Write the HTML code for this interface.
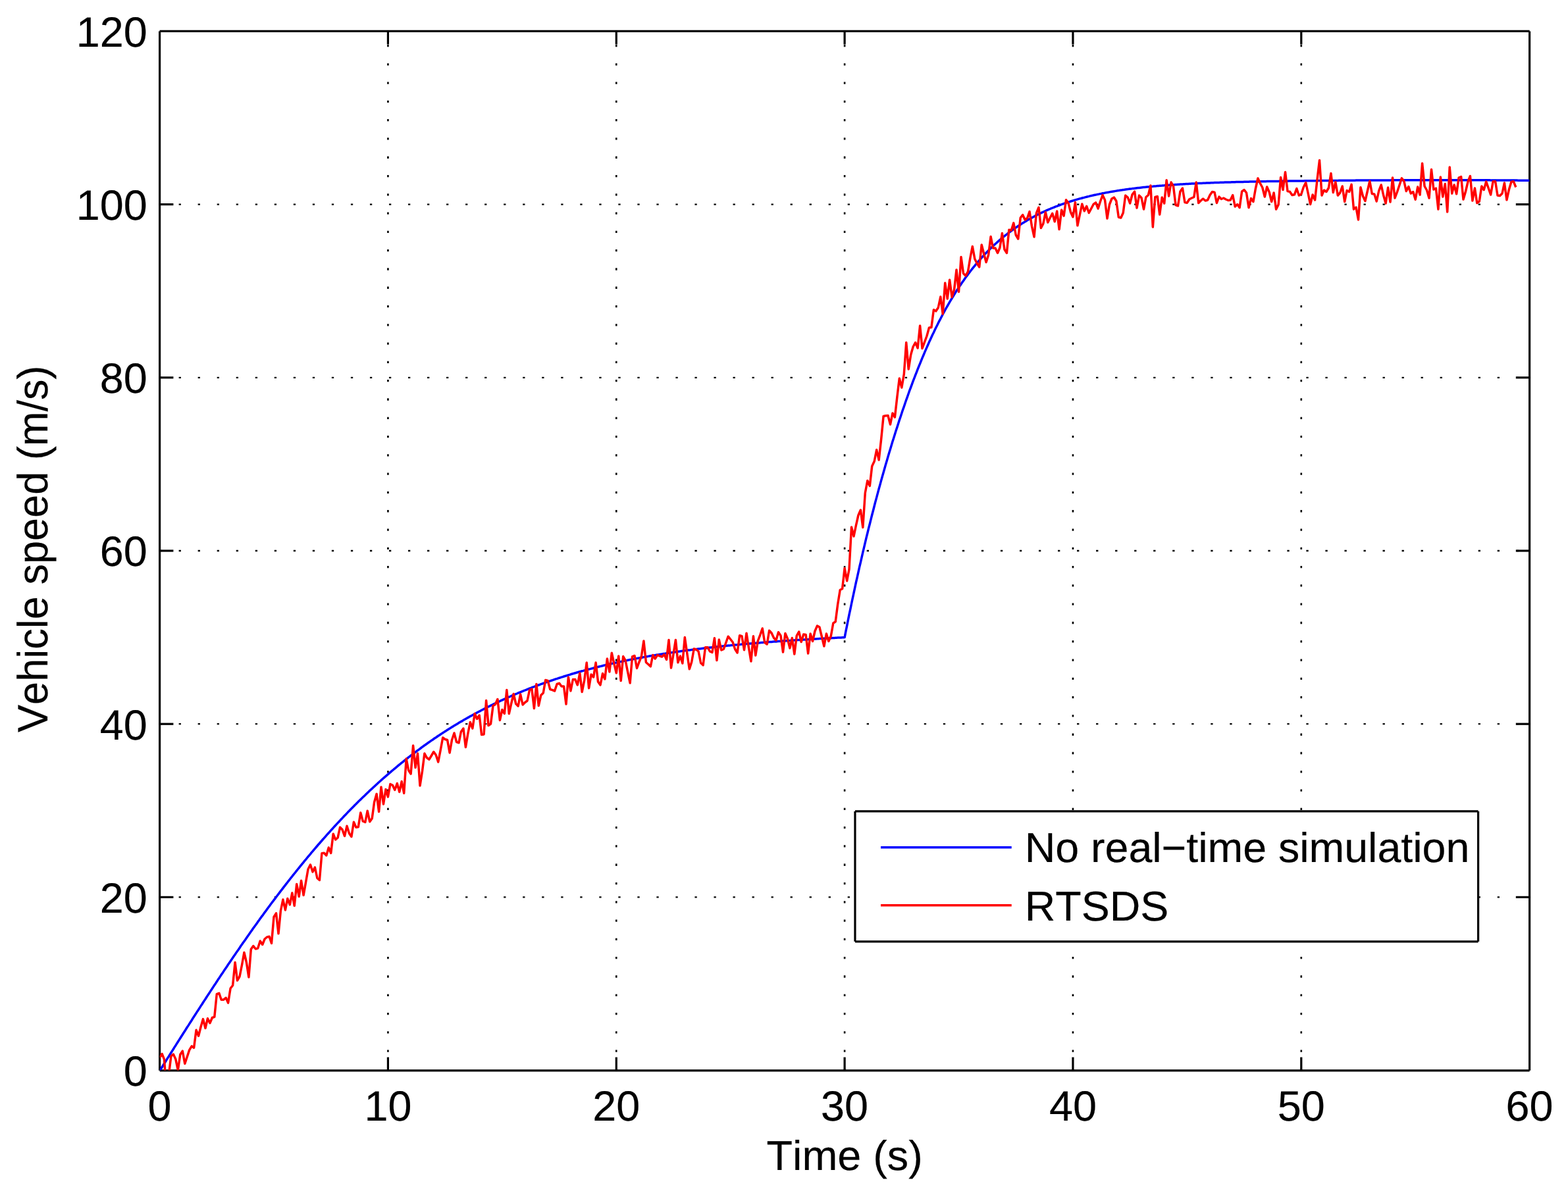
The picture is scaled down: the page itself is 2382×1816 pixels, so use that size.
<!DOCTYPE html>
<html lang="en"><head><meta charset="utf-8"><title>Vehicle speed: RTSDS vs no real-time simulation</title>
<style>
html,body{margin:0;padding:0;background:#fff;}
body{width:2382px;height:1816px;overflow:hidden;}
svg{display:block;}
text{font-family:"Liberation Sans", Arial, Helvetica, sans-serif;fill:#000;stroke:#000;stroke-width:0.2px;font-kerning:none;font-variant-ligatures:none;text-rendering:geometricPrecision;}
</style></head><body>
<svg width="2382" height="1816" viewBox="0 0 2382 1816">
<rect x="0" y="0" width="2382" height="1816" fill="#fff"/>
<g stroke="#000" fill="none" stroke-width="3.20">
<line x1="242.60" y1="1363.40" x2="2323.60" y2="1363.40" stroke-width="2.3" stroke-dasharray="3.30 25.73"/>
<line x1="242.60" y1="1100.20" x2="2323.60" y2="1100.20" stroke-width="2.3" stroke-dasharray="3.30 25.73"/>
<line x1="242.60" y1="837.00" x2="2323.60" y2="837.00" stroke-width="2.3" stroke-dasharray="3.30 25.73"/>
<line x1="242.60" y1="573.80" x2="2323.60" y2="573.80" stroke-width="2.3" stroke-dasharray="3.30 25.73"/>
<line x1="242.60" y1="310.60" x2="2323.60" y2="310.60" stroke-width="2.3" stroke-dasharray="3.30 25.73"/>
<line x1="589.43" y1="1627.10" x2="589.43" y2="47.40" stroke-width="2.6" stroke-dasharray="3.30 24.99"/>
<line x1="936.27" y1="1627.10" x2="936.27" y2="47.40" stroke-width="2.6" stroke-dasharray="3.30 24.99"/>
<line x1="1283.10" y1="1627.10" x2="1283.10" y2="47.40" stroke-width="2.6" stroke-dasharray="3.30 24.99"/>
<line x1="1629.93" y1="1627.10" x2="1629.93" y2="47.40" stroke-width="2.6" stroke-dasharray="3.30 24.99"/>
<line x1="1976.77" y1="1627.10" x2="1976.77" y2="47.40" stroke-width="2.6" stroke-dasharray="3.30 24.99"/>
</g>
<g stroke="#000" fill="none" stroke-width="3.20" stroke-linecap="butt">
<line x1="242.60" y1="1626.85" x2="2323.60" y2="1626.85"/>
<line x1="242.60" y1="47.40" x2="2323.60" y2="47.40"/>
<line x1="242.60" y1="47.40" x2="242.60" y2="1626.85"/>
<line x1="2323.60" y1="47.40" x2="2323.60" y2="1626.85"/>
<line x1="589.43" y1="1626.60" x2="589.43" y2="1606.60"/>
<line x1="589.43" y1="47.40" x2="589.43" y2="67.40"/>
<line x1="936.27" y1="1626.60" x2="936.27" y2="1606.60"/>
<line x1="936.27" y1="47.40" x2="936.27" y2="67.40"/>
<line x1="1283.10" y1="1626.60" x2="1283.10" y2="1606.60"/>
<line x1="1283.10" y1="47.40" x2="1283.10" y2="67.40"/>
<line x1="1629.93" y1="1626.60" x2="1629.93" y2="1606.60"/>
<line x1="1629.93" y1="47.40" x2="1629.93" y2="67.40"/>
<line x1="1976.77" y1="1626.60" x2="1976.77" y2="1606.60"/>
<line x1="1976.77" y1="47.40" x2="1976.77" y2="67.40"/>
<line x1="242.60" y1="1363.40" x2="263.40" y2="1363.40"/>
<line x1="2323.60" y1="1363.40" x2="2302.80" y2="1363.40"/>
<line x1="242.60" y1="1100.20" x2="263.40" y2="1100.20"/>
<line x1="2323.60" y1="1100.20" x2="2302.80" y2="1100.20"/>
<line x1="242.60" y1="837.00" x2="263.40" y2="837.00"/>
<line x1="2323.60" y1="837.00" x2="2302.80" y2="837.00"/>
<line x1="242.60" y1="573.80" x2="263.40" y2="573.80"/>
<line x1="2323.60" y1="573.80" x2="2302.80" y2="573.80"/>
<line x1="242.60" y1="310.60" x2="263.40" y2="310.60"/>
<line x1="2323.60" y1="310.60" x2="2302.80" y2="310.60"/>
</g>
<clipPath id="ax"><rect x="242.60" y="47.40" width="2081.00" height="1579.20"/></clipPath>
<g fill="none" stroke-linejoin="round" stroke-linecap="butt" clip-path="url(#ax)">
<polyline stroke="#0000ff" stroke-width="3.50" points="242.6,1626.6 244.3,1624.5 246.1,1621.7 247.8,1619.0 249.5,1616.2 251.3,1613.5 253.0,1610.7 254.7,1607.9 256.5,1605.2 258.2,1602.4 259.9,1599.7 261.7,1596.9 263.4,1594.2 265.1,1591.4 266.9,1588.7 268.6,1585.9 270.3,1583.2 272.1,1580.4 273.8,1577.7 275.5,1575.0 277.3,1572.2 279.0,1569.5 280.8,1566.8 282.5,1564.0 284.2,1561.3 286.0,1558.6 287.7,1555.9 289.4,1553.2 291.2,1550.5 292.9,1547.7 294.6,1545.0 296.4,1542.3 298.1,1539.6 299.8,1536.9 301.6,1534.3 303.3,1531.6 305.0,1528.9 306.8,1526.2 308.5,1523.5 310.2,1520.9 312.0,1518.2 313.7,1515.5 315.4,1512.9 317.2,1510.2 318.9,1507.6 320.6,1504.9 322.4,1502.3 324.1,1499.6 325.8,1497.0 327.6,1494.4 329.3,1491.7 331.0,1489.1 332.8,1486.5 334.5,1483.9 336.2,1481.3 338.0,1478.7 339.7,1476.1 341.4,1473.5 343.2,1470.9 344.9,1468.4 346.6,1465.8 348.4,1463.2 350.1,1460.7 351.9,1458.1 353.6,1455.5 355.3,1453.0 357.1,1450.5 358.8,1447.9 360.5,1445.4 362.3,1442.9 364.0,1440.4 365.7,1437.8 367.5,1435.3 369.2,1432.8 370.9,1430.4 372.7,1427.9 374.4,1425.4 376.1,1422.9 377.9,1420.4 379.6,1418.0 381.3,1415.5 383.1,1413.1 384.8,1410.6 386.5,1408.2 388.3,1405.8 390.0,1403.4 391.7,1400.9 393.5,1398.5 395.2,1396.1 396.9,1393.7 398.7,1391.4 400.4,1389.0 402.1,1386.6 403.9,1384.2 405.6,1381.9 407.3,1379.5 409.1,1377.2 410.8,1374.8 412.5,1372.5 414.3,1370.2 416.0,1367.9 417.8,1365.6 419.5,1363.3 421.2,1361.0 423.0,1358.7 424.7,1356.4 426.4,1354.1 428.2,1351.9 429.9,1349.6 431.6,1347.4 433.4,1345.1 435.1,1342.9 436.8,1340.7 438.6,1338.4 440.3,1336.2 442.0,1334.0 443.8,1331.8 445.5,1329.6 447.2,1327.5 449.0,1325.3 450.7,1323.1 452.4,1321.0 454.2,1318.8 455.9,1316.7 457.6,1314.6 459.4,1312.4 461.1,1310.3 462.8,1308.2 464.6,1306.1 466.3,1304.0 468.0,1301.9 469.8,1299.8 471.5,1297.8 473.2,1295.7 475.0,1293.7 476.7,1291.6 478.4,1289.6 480.2,1287.5 481.9,1285.5 483.6,1283.5 485.4,1281.5 487.1,1279.5 488.9,1277.5 490.6,1275.5 492.3,1273.6 494.1,1271.6 495.8,1269.6 497.5,1267.7 499.3,1265.8 501.0,1263.8 502.7,1261.9 504.5,1260.0 506.2,1258.1 507.9,1256.2 509.7,1254.3 511.4,1252.4 513.1,1250.6 514.9,1248.7 516.6,1246.9 518.3,1245.0 520.1,1243.2 521.8,1241.3 523.5,1239.5 525.3,1237.7 527.0,1235.9 528.7,1234.1 530.5,1232.3 532.2,1230.5 533.9,1228.8 535.7,1227.0 537.4,1225.3 539.1,1223.5 540.9,1221.8 542.6,1220.1 544.3,1218.3 546.1,1216.6 547.8,1214.9 549.5,1213.2 551.3,1211.5 553.0,1209.9 554.8,1208.2 556.5,1206.5 558.2,1204.9 560.0,1203.3 561.7,1201.6 563.4,1200.0 565.2,1198.4 566.9,1196.8 568.6,1195.2 570.4,1193.6 572.1,1192.0 573.8,1190.4 575.6,1188.8 577.3,1187.3 579.0,1185.7 580.8,1184.2 582.5,1182.6 584.2,1181.1 586.0,1179.6 587.7,1178.1 589.4,1176.6 591.2,1175.1 592.9,1173.6 594.6,1172.1 596.4,1170.7 598.1,1169.2 599.8,1167.8 601.6,1166.3 603.3,1164.9 605.0,1163.4 606.8,1162.0 608.5,1160.6 610.2,1159.2 612.0,1157.8 613.7,1156.4 615.4,1155.0 617.2,1153.7 618.9,1152.3 620.6,1150.9 622.4,1149.6 624.1,1148.2 625.9,1146.9 627.6,1145.6 629.3,1144.3 631.1,1143.0 632.8,1141.7 634.5,1140.4 636.3,1139.1 638.0,1137.8 639.7,1136.5 641.5,1135.2 643.2,1134.0 644.9,1132.7 646.7,1131.5 648.4,1130.3 650.1,1129.0 651.9,1127.8 653.6,1126.6 655.3,1125.4 657.1,1124.2 658.8,1123.0 660.5,1121.8 662.3,1120.7 664.0,1119.5 665.7,1118.3 667.5,1117.2 669.2,1116.0 670.9,1114.9 672.7,1113.7 674.4,1112.6 676.1,1111.5 677.9,1110.4 679.6,1109.3 681.3,1108.2 683.1,1107.1 684.8,1106.0 686.5,1104.9 688.3,1103.9 690.0,1102.8 691.7,1101.8 693.5,1100.7 695.2,1099.7 697.0,1098.6 698.7,1097.6 700.4,1096.6 702.2,1095.6 703.9,1094.5 705.6,1093.5 707.4,1092.5 709.1,1091.6 710.8,1090.6 712.6,1089.6 714.3,1088.6 716.0,1087.7 717.8,1086.7 719.5,1085.8 721.2,1084.8 723.0,1083.9 724.7,1082.9 726.4,1082.0 728.2,1081.1 729.9,1080.2 731.6,1079.3 733.4,1078.4 735.1,1077.5 736.8,1076.6 738.6,1075.7 740.3,1074.8 742.0,1073.9 743.8,1073.1 745.5,1072.2 747.2,1071.4 749.0,1070.5 750.7,1069.7 752.4,1068.8 754.2,1068.0 755.9,1067.2 757.6,1066.4 759.4,1065.5 761.1,1064.7 762.9,1063.9 764.6,1063.1 766.3,1062.3 768.1,1061.5 769.8,1060.8 771.5,1060.0 773.3,1059.2 775.0,1058.5 776.7,1057.7 778.5,1056.9 780.2,1056.2 781.9,1055.5 783.7,1054.7 785.4,1054.0 787.1,1053.2 788.9,1052.5 790.6,1051.8 792.3,1051.1 794.1,1050.4 795.8,1049.7 797.5,1049.0 799.3,1048.3 801.0,1047.6 802.7,1046.9 804.5,1046.2 806.2,1045.6 807.9,1044.9 809.7,1044.2 811.4,1043.6 813.1,1042.9 814.9,1042.3 816.6,1041.6 818.3,1041.0 820.1,1040.3 821.8,1039.7 823.5,1039.1 825.3,1038.5 827.0,1037.9 828.7,1037.2 830.5,1036.6 832.2,1036.0 834.0,1035.4 835.7,1034.8 837.4,1034.2 839.2,1033.7 840.9,1033.1 842.6,1032.5 844.4,1031.9 846.1,1031.4 847.8,1030.8 849.6,1030.2 851.3,1029.7 853.0,1029.1 854.8,1028.6 856.5,1028.0 858.2,1027.5 860.0,1027.0 861.7,1026.4 863.4,1025.9 865.2,1025.4 866.9,1024.8 868.6,1024.3 870.4,1023.8 872.1,1023.3 873.8,1022.8 875.6,1022.3 877.3,1021.8 879.0,1021.3 880.8,1020.8 882.5,1020.3 884.2,1019.8 886.0,1019.4 887.7,1018.9 889.4,1018.4 891.2,1018.0 892.9,1017.5 894.6,1017.0 896.4,1016.6 898.1,1016.1 899.8,1015.7 901.6,1015.2 903.3,1014.8 905.1,1014.3 906.8,1013.9 908.5,1013.5 910.3,1013.0 912.0,1012.6 913.7,1012.2 915.5,1011.8 917.2,1011.3 918.9,1010.9 920.7,1010.5 922.4,1010.1 924.1,1009.7 925.9,1009.3 927.6,1008.9 929.3,1008.5 931.1,1008.1 932.8,1007.7 934.5,1007.3 936.3,1007.0 938.0,1006.6 939.7,1006.2 941.5,1005.8 943.2,1005.5 944.9,1005.1 946.7,1004.7 948.4,1004.4 950.1,1004.0 951.9,1003.7 953.6,1003.3 955.3,1002.9 957.1,1002.6 958.8,1002.3 960.5,1001.9 962.3,1001.6 964.0,1001.2 965.7,1000.9 967.5,1000.6 969.2,1000.2 971.0,999.9 972.7,999.6 974.4,999.3 976.2,999.0 977.9,998.6 979.6,998.3 981.4,998.0 983.1,997.7 984.8,997.4 986.6,997.1 988.3,996.8 990.0,996.5 991.8,996.2 993.5,995.9 995.2,995.6 997.0,995.3 998.7,995.0 1000.4,994.8 1002.2,994.5 1003.9,994.2 1005.6,993.9 1007.4,993.6 1009.1,993.4 1010.8,993.1 1012.6,992.8 1014.3,992.6 1016.0,992.3 1017.8,992.0 1019.5,991.8 1021.2,991.5 1023.0,991.3 1024.7,991.0 1026.4,990.8 1028.2,990.5 1029.9,990.3 1031.6,990.0 1033.4,989.8 1035.1,989.5 1036.8,989.3 1038.6,989.1 1040.3,988.8 1042.1,988.6 1043.8,988.3 1045.5,988.1 1047.3,987.9 1049.0,987.7 1050.7,987.4 1052.5,987.2 1054.2,987.0 1055.9,986.8 1057.7,986.6 1059.4,986.3 1061.1,986.1 1062.9,985.9 1064.6,985.7 1066.3,985.5 1068.1,985.3 1069.8,985.1 1071.5,984.9 1073.3,984.7 1075.0,984.5 1076.7,984.3 1078.5,984.1 1080.2,983.9 1081.9,983.7 1083.7,983.5 1085.4,983.3 1087.1,983.1 1088.9,982.9 1090.6,982.7 1092.3,982.5 1094.1,982.4 1095.8,982.2 1097.5,982.0 1099.3,981.8 1101.0,981.6 1102.7,981.5 1104.5,981.3 1106.2,981.1 1107.9,980.9 1109.7,980.8 1111.4,980.6 1113.2,980.4 1114.9,980.2 1116.6,980.1 1118.4,979.9 1120.1,979.8 1121.8,979.6 1123.6,979.4 1125.3,979.3 1127.0,979.1 1128.8,979.0 1130.5,978.8 1132.2,978.6 1134.0,978.5 1135.7,978.3 1137.4,978.2 1139.2,978.0 1140.9,977.9 1142.6,977.7 1144.4,977.6 1146.1,977.4 1147.8,977.3 1149.6,977.2 1151.3,977.0 1153.0,976.9 1154.8,976.7 1156.5,976.6 1158.2,976.5 1160.0,976.3 1161.7,976.2 1163.4,976.0 1165.2,975.9 1166.9,975.8 1168.6,975.6 1170.4,975.5 1172.1,975.4 1173.8,975.2 1175.6,975.1 1177.3,975.0 1179.0,974.9 1180.8,974.7 1182.5,974.6 1184.3,974.5 1186.0,974.4 1187.7,974.2 1189.5,974.1 1191.2,974.0 1192.9,973.9 1194.7,973.8 1196.4,973.7 1198.1,973.5 1199.9,973.4 1201.6,973.3 1203.3,973.2 1205.1,973.1 1206.8,973.0 1208.5,972.8 1210.3,972.7 1212.0,972.6 1213.7,972.5 1215.5,972.4 1217.2,972.3 1218.9,972.2 1220.7,972.1 1222.4,972.0 1224.1,971.9 1225.9,971.8 1227.6,971.7 1229.3,971.5 1231.1,971.4 1232.8,971.3 1234.5,971.2 1236.3,971.1 1238.0,971.0 1239.7,970.9 1241.5,970.8 1243.2,970.7 1244.9,970.6 1246.7,970.5 1248.4,970.4 1250.2,970.3 1251.9,970.2 1253.6,970.2 1255.4,970.1 1257.1,970.0 1258.8,969.9 1260.6,969.8 1262.3,969.7 1264.0,969.6 1265.8,969.5 1267.5,969.4 1269.2,969.3 1271.0,969.2 1272.7,969.1 1274.4,969.0 1276.2,969.0 1277.9,968.9 1279.6,968.8 1281.4,968.7 1283.1,968.6 1284.8,959.9 1286.6,951.2 1288.3,942.6 1290.0,934.2 1291.8,925.8 1293.5,917.5 1295.2,909.3 1297.0,901.2 1298.7,893.2 1300.4,885.2 1302.2,877.4 1303.9,869.6 1305.6,861.9 1307.4,854.3 1309.1,846.8 1310.8,839.3 1312.6,831.9 1314.3,824.6 1316.0,817.4 1317.8,810.3 1319.5,803.2 1321.3,796.2 1323.0,789.3 1324.7,782.5 1326.5,775.7 1328.2,769.0 1329.9,762.4 1331.7,755.9 1333.4,749.4 1335.1,743.0 1336.9,736.6 1338.6,730.4 1340.3,724.2 1342.1,718.0 1343.8,712.0 1345.5,705.9 1347.3,700.0 1349.0,694.1 1350.7,688.3 1352.5,682.5 1354.2,676.8 1355.9,671.1 1357.7,665.5 1359.4,660.0 1361.1,654.5 1362.9,649.1 1364.6,643.7 1366.3,638.4 1368.1,633.2 1369.8,628.0 1371.5,622.8 1373.3,617.8 1375.0,612.8 1376.7,607.8 1378.5,602.9 1380.2,598.0 1381.9,593.2 1383.7,588.5 1385.4,583.8 1387.1,579.2 1388.9,574.6 1390.6,570.1 1392.4,565.6 1394.1,561.2 1395.8,556.9 1397.6,552.6 1399.3,548.3 1401.0,544.2 1402.8,540.0 1404.5,535.9 1406.2,531.9 1408.0,527.9 1409.7,524.0 1411.4,520.1 1413.2,516.3 1414.9,512.6 1416.6,508.8 1418.4,505.2 1420.1,501.6 1421.8,498.0 1423.6,494.5 1425.3,491.0 1427.0,487.6 1428.8,484.3 1430.5,481.0 1432.2,477.7 1434.0,474.5 1435.7,471.3 1437.4,468.2 1439.2,465.1 1440.9,462.1 1442.6,459.1 1444.4,456.2 1446.1,453.3 1447.8,450.5 1449.6,447.6 1451.3,444.9 1453.0,442.1 1454.8,439.5 1456.5,436.8 1458.3,434.2 1460.0,431.7 1461.7,429.1 1463.5,426.7 1465.2,424.2 1466.9,421.8 1468.7,419.4 1470.4,417.1 1472.1,414.8 1473.9,412.5 1475.6,410.3 1477.3,408.1 1479.1,405.9 1480.8,403.8 1482.5,401.7 1484.3,399.7 1486.0,397.6 1487.7,395.6 1489.5,393.7 1491.2,391.7 1492.9,389.8 1494.7,388.0 1496.4,386.1 1498.1,384.3 1499.9,382.5 1501.6,380.7 1503.3,379.0 1505.1,377.3 1506.8,375.6 1508.5,374.0 1510.3,372.3 1512.0,370.7 1513.7,369.2 1515.5,367.6 1517.2,366.1 1518.9,364.6 1520.7,363.1 1522.4,361.7 1524.1,360.2 1525.9,358.8 1527.6,357.4 1529.4,356.1 1531.1,354.7 1532.8,353.4 1534.6,352.1 1536.3,350.8 1538.0,349.5 1539.8,348.3 1541.5,347.1 1543.2,345.9 1545.0,344.7 1546.7,343.5 1548.4,342.4 1550.2,341.2 1551.9,340.1 1553.6,339.0 1555.4,338.0 1557.1,336.9 1558.8,335.9 1560.6,334.8 1562.3,333.8 1564.0,332.8 1565.8,331.9 1567.5,330.9 1569.2,330.0 1571.0,329.0 1572.7,328.1 1574.4,327.2 1576.2,326.3 1577.9,325.4 1579.6,324.6 1581.4,323.7 1583.1,322.9 1584.8,322.1 1586.6,321.3 1588.3,320.5 1590.0,319.7 1591.8,319.0 1593.5,318.2 1595.2,317.5 1597.0,316.7 1598.7,316.0 1600.5,315.3 1602.2,314.6 1603.9,313.9 1605.7,313.3 1607.4,312.6 1609.1,312.0 1610.9,311.3 1612.6,310.7 1614.3,310.1 1616.1,309.5 1617.8,308.9 1619.5,308.3 1621.3,307.7 1623.0,307.1 1624.7,306.6 1626.5,306.0 1628.2,305.5 1629.9,305.0 1631.7,304.4 1633.4,303.9 1635.1,303.4 1636.9,302.9 1638.6,302.4 1640.3,301.9 1642.1,301.5 1643.8,301.0 1645.5,300.5 1647.3,300.1 1649.0,299.6 1650.7,299.2 1652.5,298.8 1654.2,298.4 1655.9,297.9 1657.7,297.5 1659.4,297.1 1661.1,296.7 1662.9,296.3 1664.6,296.0 1666.4,295.6 1668.1,295.2 1669.8,294.9 1671.6,294.5 1673.3,294.2 1675.0,293.8 1676.8,293.5 1678.5,293.1 1680.2,292.8 1682.0,292.5 1683.7,292.2 1685.4,291.9 1687.2,291.6 1688.9,291.3 1690.6,291.0 1692.4,290.7 1694.1,290.4 1695.8,290.1 1697.6,289.8 1699.3,289.6 1701.0,289.3 1702.8,289.0 1704.5,288.8 1706.2,288.5 1708.0,288.3 1709.7,288.0 1711.4,287.8 1713.2,287.6 1714.9,287.3 1716.6,287.1 1718.4,286.9 1720.1,286.6 1721.8,286.4 1723.6,286.2 1725.3,286.0 1727.0,285.8 1728.8,285.6 1730.5,285.4 1732.2,285.2 1734.0,285.0 1735.7,284.8 1737.5,284.6 1739.2,284.5 1740.9,284.3 1742.7,284.1 1744.4,283.9 1746.1,283.8 1747.9,283.6 1749.6,283.4 1751.3,283.3 1753.1,283.1 1754.8,282.9 1756.5,282.8 1758.3,282.6 1760.0,282.5 1761.7,282.3 1763.5,282.2 1765.2,282.1 1766.9,281.9 1768.7,281.8 1770.4,281.6 1772.1,281.5 1773.9,281.4 1775.6,281.3 1777.3,281.1 1779.1,281.0 1780.8,280.9 1782.5,280.8 1784.3,280.7 1786.0,280.5 1787.7,280.4 1789.5,280.3 1791.2,280.2 1792.9,280.1 1794.7,280.0 1796.4,279.9 1798.1,279.8 1799.9,279.7 1801.6,279.6 1803.3,279.5 1805.1,279.4 1806.8,279.3 1808.6,279.2 1810.3,279.1 1812.0,279.0 1813.8,279.0 1815.5,278.9 1817.2,278.8 1819.0,278.7 1820.7,278.6 1822.4,278.6 1824.2,278.5 1825.9,278.4 1827.6,278.3 1829.4,278.3 1831.1,278.2 1832.8,278.1 1834.6,278.0 1836.3,278.0 1838.0,277.9 1839.8,277.8 1841.5,277.8 1843.2,277.7 1845.0,277.6 1846.7,277.6 1848.4,277.5 1850.2,277.4 1851.9,277.4 1853.6,277.3 1855.4,277.3 1857.1,277.2 1858.8,277.2 1860.6,277.1 1862.3,277.1 1864.0,277.0 1865.8,277.0 1867.5,276.9 1869.2,276.9 1871.0,276.8 1872.7,276.8 1874.5,276.7 1876.2,276.7 1877.9,276.6 1879.7,276.6 1881.4,276.5 1883.1,276.5 1884.9,276.4 1886.6,276.4 1888.3,276.4 1890.1,276.3 1891.8,276.3 1893.5,276.2 1895.3,276.2 1897.0,276.2 1898.7,276.1 1900.5,276.1 1902.2,276.1 1903.9,276.0 1905.7,276.0 1907.4,275.9 1909.1,275.9 1910.9,275.9 1912.6,275.8 1914.3,275.8 1916.1,275.8 1917.8,275.8 1919.5,275.7 1921.3,275.7 1923.0,275.7 1924.7,275.6 1926.5,275.6 1928.2,275.6 1929.9,275.5 1931.7,275.5 1933.4,275.5 1935.1,275.5 1936.9,275.4 1938.6,275.4 1940.3,275.4 1942.1,275.4 1943.8,275.3 1945.6,275.3 1947.3,275.3 1949.0,275.3 1950.8,275.2 1952.5,275.2 1954.2,275.2 1956.0,275.2 1957.7,275.1 1959.4,275.1 1961.2,275.1 1962.9,275.1 1964.6,275.1 1966.4,275.0 1968.1,275.0 1969.8,275.0 1971.6,275.0 1973.3,274.9 1975.0,274.9 1976.8,274.9 1978.5,274.9 1980.2,274.9 1982.0,274.8 1983.7,274.8 1985.4,274.8 1987.2,274.8 1988.9,274.8 1990.6,274.8 1992.4,274.7 1994.1,274.7 1995.8,274.7 1997.6,274.7 1999.3,274.7 2001.0,274.6 2002.8,274.6 2004.5,274.6 2006.2,274.6 2008.0,274.6 2009.7,274.6 2011.4,274.5 2013.2,274.5 2014.9,274.5 2016.7,274.5 2018.4,274.5 2020.1,274.5 2021.9,274.4 2023.6,274.4 2025.3,274.4 2027.1,274.4 2028.8,274.4 2030.5,274.4 2032.3,274.4 2034.0,274.3 2035.7,274.3 2037.5,274.3 2039.2,274.3 2040.9,274.3 2042.7,274.3 2044.4,274.3 2046.1,274.3 2047.9,274.2 2049.6,274.2 2051.3,274.2 2053.1,274.2 2054.8,274.2 2056.5,274.2 2058.3,274.2 2060.0,274.1 2061.7,274.1 2063.5,274.1 2065.2,274.1 2066.9,274.1 2068.7,274.1 2070.4,274.1 2072.1,274.1 2073.9,274.1 2075.6,274.1 2077.3,274.0 2079.1,274.0 2080.8,274.0 2082.6,274.0 2084.3,274.0 2086.0,274.0 2087.8,274.0 2089.5,274.0 2091.2,274.0 2093.0,273.9 2094.7,273.9 2096.4,273.9 2098.2,273.9 2099.9,273.9 2101.6,273.9 2103.4,273.9 2105.1,273.9 2106.8,273.9 2108.6,273.9 2110.3,273.9 2112.0,273.9 2113.8,273.8 2115.5,273.8 2117.2,273.8 2119.0,273.8 2120.7,273.8 2122.4,273.8 2124.2,273.8 2125.9,273.8 2127.6,273.8 2129.4,273.8 2131.1,273.8 2132.8,273.8 2134.6,273.8 2136.3,273.8 2138.0,273.8 2139.8,273.8 2141.5,273.7 2143.2,273.7 2145.0,273.7 2146.7,273.7 2148.4,273.7 2150.2,273.7 2151.9,273.7 2153.7,273.7 2155.4,273.7 2157.1,273.7 2158.9,273.7 2160.6,273.7 2162.3,273.7 2164.1,273.7 2165.8,273.7 2167.5,273.7 2169.3,273.7 2171.0,273.7 2172.7,273.7 2174.5,273.7 2176.2,273.7 2177.9,273.7 2179.7,273.7 2181.4,273.7 2183.1,273.7 2184.9,273.7 2186.6,273.7 2188.3,273.7 2190.1,273.7 2191.8,273.7 2193.5,273.7 2195.3,273.7 2197.0,273.7 2198.7,273.7 2200.5,273.7 2202.2,273.7 2203.9,273.7 2205.7,273.7 2207.4,273.7 2209.1,273.7 2210.9,273.7 2212.6,273.7 2214.3,273.7 2216.1,273.7 2217.8,273.7 2219.6,273.7 2221.3,273.7 2223.0,273.7 2224.8,273.7 2226.5,273.7 2228.2,273.7 2230.0,273.7 2231.7,273.7 2233.4,273.7 2235.2,273.7 2236.9,273.7 2238.6,273.7 2240.4,273.7 2242.1,273.8 2243.8,273.8 2245.6,273.8 2247.3,273.8 2249.0,273.8 2250.8,273.8 2252.5,273.8 2254.2,273.8 2256.0,273.8 2257.7,273.8 2259.4,273.8 2261.2,273.8 2262.9,273.8 2264.6,273.9 2266.4,273.9 2268.1,273.9 2269.8,273.9 2271.6,273.9 2273.3,273.9 2275.0,273.9 2276.8,273.9 2278.5,273.9 2280.2,273.9 2282.0,274.0 2283.7,274.0 2285.4,274.0 2287.2,274.0 2288.9,274.0 2290.7,274.0 2292.4,274.0 2294.1,274.1 2295.9,274.1 2297.6,274.1 2299.3,274.1 2301.1,274.1 2302.8,274.1 2304.5,274.1 2306.3,274.2 2308.0,274.2 2309.7,274.2 2311.5,274.2 2313.2,274.2 2314.9,274.3 2316.7,274.3 2318.4,274.3 2320.1,274.3 2321.9,274.3 2323.6,274.3"/>
<polyline stroke="#ff0000" stroke-width="3.50" points="242.6,1607.0 246.1,1601.5 249.5,1609.8 253.0,1659.2 256.5,1632.1 259.9,1605.0 263.4,1602.1 266.9,1609.8 270.3,1626.2 273.8,1602.5 277.3,1597.2 280.8,1616.4 284.2,1606.2 287.7,1595.6 291.2,1589.8 294.6,1592.3 298.1,1565.3 301.6,1574.3 305.0,1560.8 308.5,1548.6 312.0,1562.5 315.4,1547.8 318.9,1554.7 322.4,1546.5 325.8,1545.3 329.3,1510.6 332.8,1509.4 336.2,1519.2 339.7,1519.2 343.2,1516.3 346.6,1524.1 350.1,1502.0 353.6,1497.5 357.1,1462.5 360.5,1490.0 364.0,1484.0 367.5,1466.5 370.9,1447.5 374.4,1462.5 377.9,1485.0 381.3,1442.5 384.8,1437.5 388.3,1442.0 391.7,1441.0 395.2,1430.0 398.7,1435.5 402.1,1427.0 405.6,1424.0 409.1,1423.3 412.5,1433.5 416.0,1393.5 419.5,1387.8 423.0,1418.8 426.4,1384.0 429.9,1367.0 433.4,1383.0 436.8,1365.5 440.3,1374.8 443.8,1357.0 447.2,1376.5 450.7,1343.5 454.2,1362.5 457.6,1338.3 461.1,1360.5 464.6,1340.5 468.0,1321.0 471.5,1314.0 475.0,1325.0 478.4,1318.0 481.9,1334.5 485.4,1337.5 488.9,1296.8 492.3,1296.3 495.8,1300.0 499.3,1288.0 502.7,1296.5 506.2,1267.2 509.7,1276.0 513.1,1273.0 516.6,1257.2 520.1,1260.8 523.5,1270.5 527.0,1255.3 530.5,1266.5 533.9,1271.5 537.4,1249.2 540.9,1257.2 544.3,1256.8 547.8,1235.0 551.3,1248.0 554.8,1249.5 558.2,1232.3 561.7,1248.7 565.2,1243.8 568.6,1219.0 572.1,1206.5 575.6,1233.5 579.0,1196.0 582.5,1222.0 586.0,1199.5 589.4,1211.0 592.9,1191.5 596.4,1193.2 599.8,1200.5 603.3,1190.5 606.8,1203.5 610.2,1187.5 613.7,1205.5 617.2,1153.0 620.6,1170.5 624.1,1176.0 627.6,1133.0 631.1,1166.5 634.5,1145.0 638.0,1194.0 641.5,1172.0 644.9,1145.0 648.4,1151.5 651.9,1154.2 655.3,1148.5 658.8,1142.5 662.3,1147.5 665.7,1158.0 669.2,1140.0 672.7,1121.0 676.1,1123.5 679.6,1124.5 683.1,1144.0 686.5,1124.5 690.0,1114.0 693.5,1127.5 697.0,1128.8 700.4,1112.0 703.9,1107.0 707.4,1135.5 710.8,1115.0 714.3,1097.5 717.8,1107.0 721.2,1084.5 724.7,1092.5 728.2,1087.0 731.6,1116.5 735.1,1116.0 738.6,1064.5 742.0,1102.5 745.5,1100.0 749.0,1072.5 752.4,1070.5 755.9,1062.5 759.4,1094.5 762.9,1078.5 766.3,1084.5 769.8,1048.5 773.3,1084.5 776.7,1069.0 780.2,1054.5 783.7,1069.5 787.1,1073.0 790.6,1055.0 794.1,1071.0 797.5,1067.5 801.0,1065.0 804.5,1048.5 807.9,1047.0 811.4,1076.5 814.9,1039.5 818.3,1072.5 821.8,1056.5 825.3,1053.0 828.7,1033.5 832.2,1034.5 835.7,1047.5 839.2,1048.7 842.6,1050.0 846.1,1039.5 849.6,1038.3 853.0,1043.0 856.5,1043.0 860.0,1070.0 863.4,1029.0 866.9,1050.0 870.4,1032.5 873.8,1032.5 877.3,1041.0 880.8,1023.0 884.2,1051.5 887.7,1034.0 891.2,1007.0 894.6,1045.8 898.1,1025.0 901.6,1029.0 905.1,1007.0 908.5,1036.0 912.0,1041.0 915.5,1023.5 918.9,1032.0 922.4,1001.0 925.9,1021.0 929.3,992.2 932.8,1008.0 936.3,1022.8 939.7,997.0 943.2,1034.5 946.7,997.5 950.1,1003.5 953.6,1021.0 957.1,1038.0 960.5,997.8 964.0,996.5 967.5,1015.5 971.0,1006.0 974.4,997.5 977.9,974.0 981.4,1006.5 984.8,1009.5 988.3,1012.8 991.8,995.5 995.2,1001.0 998.7,995.5 1002.2,996.8 1005.6,998.0 1009.1,994.5 1012.6,1002.5 1016.0,972.5 1019.5,1015.0 1023.0,994.0 1026.4,972.5 1029.9,1006.8 1033.4,997.0 1036.8,1008.0 1040.3,968.5 1043.8,993.0 1047.3,1016.8 1050.7,1006.0 1054.2,986.0 1057.7,987.0 1061.1,990.0 1064.6,1007.5 1068.1,1010.8 1071.5,983.8 1075.0,983.8 1078.5,990.0 1081.9,991.5 1085.4,969.8 1088.9,1003.5 1092.3,972.0 1095.8,988.0 1099.3,986.5 1102.7,977.0 1106.2,967.2 1109.7,971.5 1113.2,976.0 1116.6,986.5 1120.1,992.0 1123.6,965.8 1127.0,966.8 1130.5,987.8 1134.0,962.2 1137.4,984.0 1140.9,1005.0 1144.4,966.8 1147.8,996.0 1151.3,974.0 1154.8,964.8 1158.2,955.0 1161.7,976.5 1165.2,979.0 1168.6,958.2 1172.1,962.0 1175.6,969.5 1179.0,973.0 1182.5,960.8 1186.0,966.0 1189.5,991.0 1192.9,962.5 1196.4,970.5 1199.9,985.0 1203.3,969.5 1206.8,994.0 1210.3,966.0 1213.7,960.0 1217.2,975.5 1220.7,964.0 1224.1,964.5 1227.6,993.0 1231.1,963.0 1234.5,974.5 1238.0,959.0 1241.5,951.0 1244.9,953.0 1248.4,967.5 1251.9,982.0 1255.4,963.0 1258.8,974.5 1262.3,966.5 1265.8,947.0 1269.2,944.8 1272.7,918.0 1276.2,896.5 1279.6,894.8 1283.1,863.5 1286.6,882.8 1290.0,865.0 1293.5,801.0 1297.0,815.0 1300.4,798.5 1303.9,783.0 1307.4,775.0 1310.8,801.5 1314.3,749.0 1317.8,730.5 1321.3,738.5 1324.7,708.5 1328.2,701.0 1331.7,683.5 1335.1,699.0 1338.6,668.0 1342.1,632.5 1345.5,631.8 1349.0,631.5 1352.5,645.0 1355.9,628.0 1359.4,634.0 1362.9,603.0 1366.3,575.0 1369.8,589.0 1373.3,568.5 1376.7,520.5 1380.2,561.0 1383.7,539.0 1387.1,527.0 1390.6,520.5 1394.1,529.0 1397.6,495.0 1401.0,529.5 1404.5,520.0 1408.0,510.5 1411.4,498.0 1414.9,497.5 1418.4,470.8 1421.8,472.8 1425.3,467.5 1428.8,451.0 1432.2,477.0 1435.7,430.0 1439.2,454.0 1442.6,425.2 1446.1,451.5 1449.6,440.0 1453.0,410.0 1456.5,443.5 1460.0,390.5 1463.5,415.5 1466.9,419.0 1470.4,413.0 1473.9,392.0 1477.3,374.5 1480.8,393.5 1484.3,400.5 1487.7,405.8 1491.2,372.0 1494.7,385.8 1498.1,398.5 1501.6,387.5 1505.1,359.5 1508.5,377.0 1512.0,377.0 1515.5,384.5 1518.9,376.5 1522.4,354.5 1525.9,379.0 1529.4,384.5 1532.8,349.3 1536.3,350.0 1539.8,338.8 1543.2,357.0 1546.7,363.0 1550.2,331.0 1553.6,326.5 1557.1,334.0 1560.6,331.5 1564.0,321.5 1567.5,344.0 1571.0,360.0 1574.4,324.0 1577.9,315.2 1581.4,346.5 1584.8,340.0 1588.3,322.5 1591.8,338.0 1595.2,331.0 1598.7,324.3 1602.2,336.8 1605.7,321.0 1609.1,348.5 1612.6,319.0 1616.1,328.0 1619.5,303.7 1623.0,308.5 1626.5,322.5 1629.9,329.7 1633.4,307.5 1636.9,342.8 1640.3,326.5 1643.8,310.0 1647.3,320.8 1650.7,313.3 1654.2,323.5 1657.7,317.0 1661.1,310.5 1664.6,307.8 1668.1,317.0 1671.6,306.0 1675.0,296.5 1678.5,304.0 1682.0,332.0 1685.4,311.0 1688.9,302.0 1692.4,300.0 1695.8,305.5 1699.3,330.0 1702.8,331.0 1706.2,323.5 1709.7,297.0 1713.2,300.0 1716.6,309.0 1720.1,295.5 1723.6,291.2 1727.0,316.0 1730.5,297.0 1734.0,300.5 1737.5,318.0 1740.9,299.5 1744.4,296.5 1747.9,282.0 1751.3,345.0 1754.8,299.5 1758.3,298.5 1761.7,326.0 1765.2,300.0 1768.7,309.0 1772.1,273.8 1775.6,298.0 1779.1,277.0 1782.5,283.0 1786.0,311.5 1789.5,312.8 1792.9,291.0 1796.4,286.0 1799.9,307.5 1803.3,308.2 1806.8,302.7 1810.3,301.0 1813.8,299.5 1817.2,277.0 1820.7,308.5 1824.2,304.8 1827.6,302.0 1831.1,305.0 1834.6,304.0 1838.0,296.5 1841.5,291.5 1845.0,292.2 1848.4,308.5 1851.9,299.0 1855.4,302.5 1858.8,301.0 1862.3,303.0 1865.8,304.5 1869.2,304.0 1872.7,296.5 1876.2,314.0 1879.7,310.5 1883.1,315.5 1886.6,291.0 1890.1,288.5 1893.5,293.0 1897.0,315.5 1900.5,301.5 1903.9,306.5 1907.4,286.5 1910.9,271.0 1914.3,278.5 1917.8,285.0 1921.3,299.0 1924.7,284.0 1928.2,292.0 1931.7,306.5 1935.1,293.0 1938.6,318.0 1942.1,311.0 1945.6,269.5 1949.0,288.5 1952.5,261.5 1956.0,290.5 1959.4,291.2 1962.9,296.5 1966.4,295.8 1969.8,286.5 1973.3,297.0 1976.8,295.0 1980.2,284.5 1983.7,277.5 1987.2,294.0 1990.6,310.5 1994.1,296.0 1997.6,304.0 2001.0,273.0 2004.5,243.5 2008.0,297.0 2011.4,289.0 2014.9,291.5 2018.4,285.5 2021.9,263.5 2025.3,292.5 2028.8,276.5 2032.3,297.0 2035.7,293.0 2039.2,283.0 2042.7,306.5 2046.1,289.5 2049.6,291.5 2053.1,280.3 2056.5,318.0 2060.0,315.0 2063.5,334.0 2066.9,284.7 2070.4,298.0 2073.9,305.5 2077.3,290.5 2080.8,275.3 2084.3,294.5 2087.8,295.0 2091.2,306.0 2094.7,290.0 2098.2,281.0 2101.6,296.5 2105.1,309.0 2108.6,285.0 2112.0,307.0 2115.5,270.0 2119.0,301.0 2122.4,292.0 2125.9,281.5 2129.4,270.8 2132.8,275.0 2136.3,290.5 2139.8,283.5 2143.2,294.0 2146.7,291.5 2150.2,303.2 2153.7,284.0 2157.1,296.0 2160.6,248.2 2164.1,283.0 2167.5,289.0 2171.0,301.0 2174.5,257.5 2177.9,288.0 2181.4,286.2 2184.9,318.0 2188.3,269.0 2191.8,299.0 2195.3,279.5 2198.7,322.0 2202.2,254.0 2205.7,294.0 2209.1,281.0 2212.6,294.8 2216.1,270.0 2219.6,268.5 2223.0,303.0 2226.5,291.0 2230.0,276.0 2233.4,267.5 2236.9,305.0 2240.4,286.0 2243.8,308.5 2247.3,306.0 2250.8,283.0 2254.2,288.5 2257.7,276.0 2261.2,286.0 2264.6,296.0 2268.1,275.8 2271.6,275.8 2275.0,297.0 2278.5,297.5 2282.0,294.0 2285.4,278.0 2288.9,303.8 2292.4,288.0 2295.9,276.2 2299.3,275.8 2302.8,284.5"/>
</g>
<text transform="translate(242.60 1703.20) scale(1.0050 1)" font-size="64.40" text-anchor="middle">0</text>
<text transform="translate(589.43 1703.20) scale(1.0050 1)" font-size="64.40" text-anchor="middle">10</text>
<text transform="translate(936.27 1703.20) scale(1.0050 1)" font-size="64.40" text-anchor="middle">20</text>
<text transform="translate(1283.10 1703.20) scale(1.0050 1)" font-size="64.40" text-anchor="middle">30</text>
<text transform="translate(1629.93 1703.20) scale(1.0050 1)" font-size="64.40" text-anchor="middle">40</text>
<text transform="translate(1976.77 1703.20) scale(1.0050 1)" font-size="64.40" text-anchor="middle">50</text>
<text transform="translate(2323.60 1703.20) scale(1.0050 1)" font-size="64.40" text-anchor="middle">60</text>
<text transform="translate(223.70 1650.00) scale(1.0050 1)" font-size="64.40" text-anchor="end">0</text>
<text transform="translate(223.70 1386.80) scale(1.0050 1)" font-size="64.40" text-anchor="end">20</text>
<text transform="translate(223.70 1123.60) scale(1.0050 1)" font-size="64.40" text-anchor="end">40</text>
<text transform="translate(223.70 860.40) scale(1.0050 1)" font-size="64.40" text-anchor="end">60</text>
<text transform="translate(223.70 597.20) scale(1.0050 1)" font-size="64.40" text-anchor="end">80</text>
<text transform="translate(223.70 334.00) scale(1.0050 1)" font-size="64.40" text-anchor="end">100</text>
<text transform="translate(223.70 70.80) scale(1.0050 1)" font-size="64.40" text-anchor="end">120</text>
<text transform="translate(1283.10 1777.70) scale(1.0190 1)" font-size="63.50" text-anchor="middle">Time (s)</text>
<text transform="translate(72.00 834.20) rotate(-90) scale(0.9770 1)" font-size="64.60" text-anchor="middle">Vehicle speed (m/s)</text>
<rect x="1298.95" y="1232.90" width="946.65" height="197.90" fill="#fff"/>
<g stroke="#000" fill="none" stroke-width="3.20" stroke-linecap="butt">
<line x1="1298.95" y1="1430.80" x2="2245.60" y2="1430.80"/>
<line x1="1298.95" y1="1232.90" x2="2245.60" y2="1232.90"/>
<line x1="1298.95" y1="1232.90" x2="1298.95" y2="1430.80"/>
<line x1="2245.60" y1="1232.90" x2="2245.60" y2="1430.80"/>
</g>
<line x1="1338" y1="1287.8" x2="1536.7" y2="1287.8" stroke="#0000ff" stroke-width="3.50"/>
<line x1="1338" y1="1375.8" x2="1536.7" y2="1375.8" stroke="#ff0000" stroke-width="3.50"/>
<text transform="translate(1556.70 1310.10) scale(1.0155 1)" font-size="63.50" text-anchor="start">No real−time simulation</text>
<text transform="translate(1556.70 1398.50) scale(1.0155 1)" font-size="63.50" text-anchor="start">RTSDS</text>
</svg>
</body></html>
